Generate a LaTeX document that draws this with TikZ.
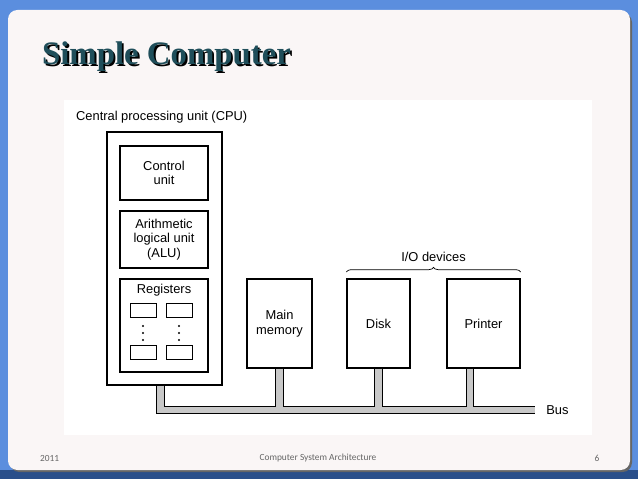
\documentclass[tikz,border=0pt]{standalone}
\usepackage{fontspec}
\setmainfont{Liberation Sans}
\newfontfamily\titlefont{Liberation Serif}
\newfontfamily\footfont{Carlito}
\usetikzlibrary{positioning,decorations.pathreplacing}
\definecolor{slide-blue}{HTML}{5B8EDE}
\definecolor{slide-navy}{HTML}{2A4F8A}
\definecolor{slide-panel}{HTML}{FAF6F6}
\definecolor{slide-title}{HTML}{1F4E5A}
\definecolor{bus-grey}{HTML}{C8C8C8}
\begin{document}
\begin{tikzpicture}[x=0.03cm,y=-0.03cm,
    unit/.style={draw,line width=0.9pt,align=center,inner sep=0pt,
      font=\fontsize{11}{12.5}\selectfont},
    reg/.style={draw,line width=0.7pt,minimum width=26*0.03cm,minimum height=14*0.03cm,inner sep=0pt},
    bus outer/.style={line width=7*0.03cm+1.2pt,black},
    bus inner/.style={line width=7*0.03cm-0.6pt,bus-grey}]
  %% Slide
  \fill[slide-blue] (0,0) rectangle (638,479);
  \fill[slide-navy] (0,470) rectangle (638,479);
  \fill[black!60,rounded corners=8pt] (10,13) rectangle (632,472);
  \fill[slide-panel,rounded corners=8pt] (8,10) rectangle (630,470);
  \fill[white] (64,100) rectangle (592,435);
  \useasboundingbox (0,0) rectangle (638,479);

  %% Title
  \node[anchor=west,slide-title,font=\titlefont\bfseries\fontsize{28}{30}\selectfont] (title) at (38,58)
    {\rlap{\kern1.6pt\raisebox{-1.6pt}{\color{black}Simple Computer}}Simple Computer};

  %% CPU
  \node[anchor=west,font=\fontsize{11}{12}\selectfont] (cpulabel) at (72,117) {Central processing unit (CPU)};
  \node[unit,minimum width=115*0.03cm,minimum height=253*0.03cm] (cpu) at (164.5,258.5) {};
  \node[unit,minimum width=88*0.03cm,minimum height=54*0.03cm] (ctrl) at (164,173) {Control\\unit};
  \node[unit,minimum width=88*0.03cm,minimum height=57*0.03cm] (alu) at (164,239.5) {Arithmetic\\logical unit\\(ALU)};
  \node[unit,minimum width=88*0.03cm,minimum height=93*0.03cm] (regs) at (164,325.5) {};
  \node[font=\fontsize{11}{12}\selectfont] (regslabel) at (164,290) {Registers};
  \node[reg] (r1) at (143,310) {};
  \node[reg] (r2) at (179,310) {};
  \node[reg] (r3) at (143,352.5) {};
  \node[reg] (r4) at (179,352.5) {};
  \foreach \x in {143,179}
    \foreach \y in {326,333,340}
      \fill (\x,\y) circle (0.9pt);

  %% Memory and devices
  \node[unit,minimum width=65*0.03cm,minimum height=89*0.03cm] (mem) at (279.5,323.5) {Main\\memory};
  \node[unit,minimum width=63*0.03cm,minimum height=89*0.03cm] (disk) at (378.5,323.5) {Disk};
  \node[unit,minimum width=73*0.03cm,minimum height=89*0.03cm] (printer) at (483.5,323.5) {Printer};
  \draw[decorate,decoration={brace,amplitude=4pt},line width=0.6pt]
    (disk.north west |- 0,272) -- (printer.north east |- 0,272)
    node[midway,above=5pt,font=\fontsize{11}{12}\selectfont] (io) {I/O devices};

  %% Bus
  \coordinate (busend) at (535,410);
  \foreach \s in {bus outer,bus inner}{
    \draw[\s] (cpu.south -| 160.5,0) -- (160.5,410) -- (busend);
    \draw[\s] (mem.south) -- (mem.south |- busend);
    \draw[\s] (disk.south) -- (disk.south |- busend);
    \draw[\s] (printer.south -| 470,0) -- (470,410);
  }
  \node[anchor=west,font=\fontsize{11}{12}\selectfont] (bus) at (busend) {~~Bus};

  %% Footer
  \node[anchor=west,gray!80!black,font=\footfont\fontsize{8}{9}\selectfont] (year) at (36,458) {2011};
  \node[gray!80!black,font=\footfont\fontsize{8}{9}\selectfont] (course) at (318,458) {Computer System Architecture};
  \node[gray!80!black,font=\footfont\fontsize{8}{9}\selectfont] (page) at (597,458) {6};
\end{tikzpicture}
\end{document}
